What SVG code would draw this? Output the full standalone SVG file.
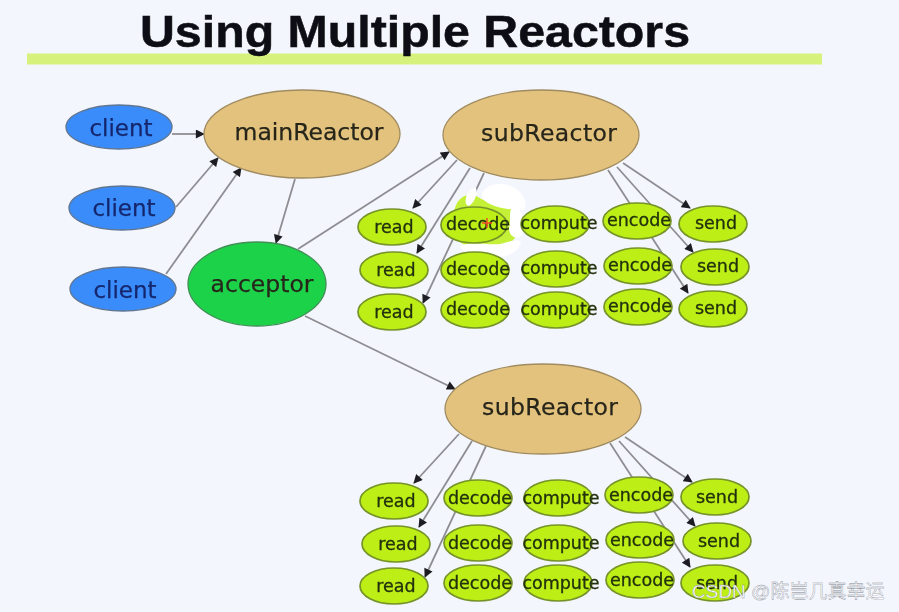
<svg xmlns="http://www.w3.org/2000/svg" width="899" height="612" viewBox="0 0 899 612">
<style>
.c{fill:#3a8cfb;stroke:#5f7590;stroke-width:1.3}
.r{fill:#e3c27d;stroke:#a08c60;stroke-width:1.3}
.a{fill:#1fd24a;stroke:#3f8f55;stroke-width:1.3}
.s{fill:#bdef16;stroke:#76932a;stroke-width:1.7}
.l{font-family:"DejaVu Sans",sans-serif;text-anchor:middle}
.n{font-size:23.500px;fill:#26251a;stroke:#26251a;stroke-width:0.25}
.b{font-size:23px;fill:#14286e;stroke:#14286e;stroke-width:0.25}
.t{font-size:17.500px;fill:#22300c;stroke:#22300c;stroke-width:0.3}
.e{fill:none;stroke:#8e8e92;stroke-width:1.8;marker-end:url(#h)}
.soft{filter:url(#f)}
</style>
<defs>
<marker id="h" viewBox="0 0 10 10" refX="9" refY="5" markerWidth="10" markerHeight="9" markerUnits="userSpaceOnUse" orient="auto"><path d="M0 0L10 5L0 10z" fill="#1f1f24"/></marker>
<filter id="f" x="-5%" y="-5%" width="110%" height="110%"><feGaussianBlur stdDeviation="0.5"/></filter>
</defs>
<rect width="899" height="612" fill="#f4f6fe"/>
<g class="soft">
<rect x="27" y="53.500" width="795" height="11" fill="#d6f27c"/>
<text id="title" x="415" y="47" font-family="'Liberation Sans',Arial,sans-serif" font-weight="700" font-size="45" text-anchor="middle" fill="#101014" stroke="#101014" stroke-width="0.5" textLength="550" lengthAdjust="spacingAndGlyphs">Using Multiple Reactors</text>
<g id="connectors">
<line class="e" x1="172" y1="134" x2="204" y2="134"/>
<line class="e" x1="176" y1="207" x2="218" y2="158"/>
<line class="e" x1="166" y1="274" x2="241" y2="168"/>
<line class="e" x1="295" y1="179" x2="276" y2="243"/>
<line class="e" x1="298" y1="249" x2="449" y2="152"/>
<line class="e" x1="305" y1="316" x2="455" y2="389"/>
<line class="e" x1="457" y1="160" x2="413" y2="208"/>
<line class="e" x1="470" y1="168" x2="417" y2="253"/>
<line class="e" x1="484" y1="173" x2="423" y2="303"/>
<line class="e" x1="608" y1="170" x2="688" y2="293"/>
<line class="e" x1="617" y1="167" x2="693" y2="252"/>
<line class="e" x1="623" y1="163" x2="690" y2="208"/>
<line class="e" x1="459" y1="434" x2="414" y2="483"/>
<line class="e" x1="472" y1="441" x2="419" y2="527"/>
<line class="e" x1="486" y1="446" x2="425" y2="577"/>
<line class="e" x1="610" y1="443" x2="690" y2="567"/>
<line class="e" x1="619" y1="441" x2="695" y2="526"/>
<line class="e" x1="625" y1="437" x2="692" y2="482"/>
</g>
<path d="M456 205C460 196 470 192 478 197C490 205 510 204 518 212C522 225 518 240 505 247C490 250 466 250 458 240C452 228 452 214 456 205Z" fill="#c4f038"/>
<g fill="#fff">
<path d="M466 204C464 196 470 187 476 188C478 194 474 204 468 206Z"/>
<path d="M482 198C480 186 498 181 510 186C524 191 528 204 524 210C510 210 490 208 482 198Z"/>
<path d="M511 209C522 206 527 220 523 234C518 240 509 238 509 228C511 222 509 214 511 209Z"/>
<path d="M460 246C470 241 486 245 500 244C512 241 521 238 521 243C517 253 506 259 492 256C480 259 464 255 460 246Z"/>
</g>
<g id="client1"><ellipse class="c" cx="119" cy="127" rx="53" ry="22"/><text class="l b" x="121" y="136">client</text></g>
<g id="client2"><ellipse class="c" cx="122" cy="208" rx="53" ry="22"/><text class="l b" x="124" y="216">client</text></g>
<g id="client3"><ellipse class="c" cx="123" cy="289" rx="53" ry="22"/><text class="l b" x="125" y="298">client</text></g>
<g id="mainReactor"><ellipse class="r" cx="302" cy="134" rx="98" ry="44"/><text class="l n" x="309" y="140">mainReactor</text></g>
<g id="acceptor"><ellipse class="a" cx="257" cy="284" rx="69" ry="42"/><text class="l n" x="262" y="292">acceptor</text></g>
<g id="subReactor1"><ellipse class="r" cx="541" cy="135" rx="98" ry="45"/><text class="l n" x="549" y="141" textLength="136">subReactor</text></g>
<g id="subReactor2"><ellipse class="r" cx="543" cy="409" rx="98" ry="45"/><text class="l n" x="550" y="415" textLength="136">subReactor</text></g>
<g id="t-read1"><ellipse class="s" cx="392" cy="227" rx="34" ry="18"/><text class="l t" x="394" y="233">read</text></g>
<g id="t-read2"><ellipse class="s" cx="394" cy="270" rx="34" ry="18"/><text class="l t" x="396" y="276">read</text></g>
<g id="t-read3"><ellipse class="s" cx="392" cy="312" rx="34" ry="18"/><text class="l t" x="394" y="318">read</text></g>
<g id="t-decode1"><ellipse class="s" cx="474" cy="225" rx="33" ry="18"/><text class="l t" x="478" y="230">decode</text></g>
<g id="t-decode2"><ellipse class="s" cx="475" cy="270" rx="34" ry="18"/><text class="l t" x="478" y="275">decode</text></g>
<g id="t-decode3"><ellipse class="s" cx="475" cy="310" rx="34" ry="18"/><text class="l t" x="478" y="315">decode</text></g>
<g id="t-compute1"><ellipse class="s" cx="555" cy="224" rx="34" ry="18"/><text class="l t" x="559" y="229">compute</text></g>
<g id="t-compute2"><ellipse class="s" cx="556" cy="269" rx="34" ry="18"/><text class="l t" x="559" y="274">compute</text></g>
<g id="t-compute3"><ellipse class="s" cx="556" cy="310" rx="34" ry="18"/><text class="l t" x="559" y="315">compute</text></g>
<g id="t-encode1"><ellipse class="s" cx="637" cy="221" rx="34" ry="18"/><text class="l t" x="639" y="226">encode</text></g>
<g id="t-encode2"><ellipse class="s" cx="638" cy="266" rx="34" ry="18"/><text class="l t" x="640" y="271">encode</text></g>
<g id="t-encode3"><ellipse class="s" cx="638" cy="307" rx="34" ry="18"/><text class="l t" x="640" y="312">encode</text></g>
<g id="t-send1"><ellipse class="s" cx="713" cy="224" rx="34" ry="18"/><text class="l t" x="716" y="229">send</text></g>
<g id="t-send2"><ellipse class="s" cx="715" cy="267" rx="34" ry="18"/><text class="l t" x="718" y="272">send</text></g>
<g id="t-send3"><ellipse class="s" cx="713" cy="309" rx="34" ry="18"/><text class="l t" x="716" y="314">send</text></g>
<g id="b-read1"><ellipse class="s" cx="394" cy="501" rx="34" ry="18"/><text class="l t" x="396" y="507">read</text></g>
<g id="b-read2"><ellipse class="s" cx="396" cy="544" rx="34" ry="18"/><text class="l t" x="398" y="550">read</text></g>
<g id="b-read3"><ellipse class="s" cx="394" cy="586" rx="34" ry="18"/><text class="l t" x="396" y="592">read</text></g>
<g id="b-decode1"><ellipse class="s" cx="478" cy="498" rx="34" ry="18"/><text class="l t" x="480" y="504">decode</text></g>
<g id="b-decode2"><ellipse class="s" cx="478" cy="543" rx="34" ry="18"/><text class="l t" x="480" y="549">decode</text></g>
<g id="b-decode3"><ellipse class="s" cx="478" cy="583" rx="34" ry="18"/><text class="l t" x="480" y="589">decode</text></g>
<g id="b-compute1"><ellipse class="s" cx="558" cy="498" rx="34" ry="18"/><text class="l t" x="561" y="504">compute</text></g>
<g id="b-compute2"><ellipse class="s" cx="558" cy="543" rx="34" ry="18"/><text class="l t" x="561" y="549">compute</text></g>
<g id="b-compute3"><ellipse class="s" cx="558" cy="583" rx="34" ry="18"/><text class="l t" x="561" y="589">compute</text></g>
<g id="b-encode1"><ellipse class="s" cx="639" cy="495" rx="34" ry="18"/><text class="l t" x="641" y="501">encode</text></g>
<g id="b-encode2"><ellipse class="s" cx="640" cy="540" rx="34" ry="18"/><text class="l t" x="642" y="546">encode</text></g>
<g id="b-encode3"><ellipse class="s" cx="640" cy="580" rx="34" ry="18"/><text class="l t" x="642" y="586">encode</text></g>
<g id="b-send1"><ellipse class="s" cx="715" cy="497" rx="34" ry="18"/><text class="l t" x="717" y="503">send</text></g>
<g id="b-send2"><ellipse class="s" cx="717" cy="541" rx="34" ry="18"/><text class="l t" x="719" y="547">send</text></g>
<g id="b-send3"><ellipse class="s" cx="715" cy="583" rx="34" ry="18"/><text class="l t" x="717" y="589">send</text></g>
<path d="M487 218V228M482 223H492" stroke="#f0502a" stroke-width="1.500"/>
</g>
<text x="692" y="598" font-family="'Liberation Sans','Noto Sans CJK SC',sans-serif" font-size="19" fill="#fff" stroke="#7d858e" stroke-width="0.35">CSDN @陈岂几真幸运</text>
</svg>
